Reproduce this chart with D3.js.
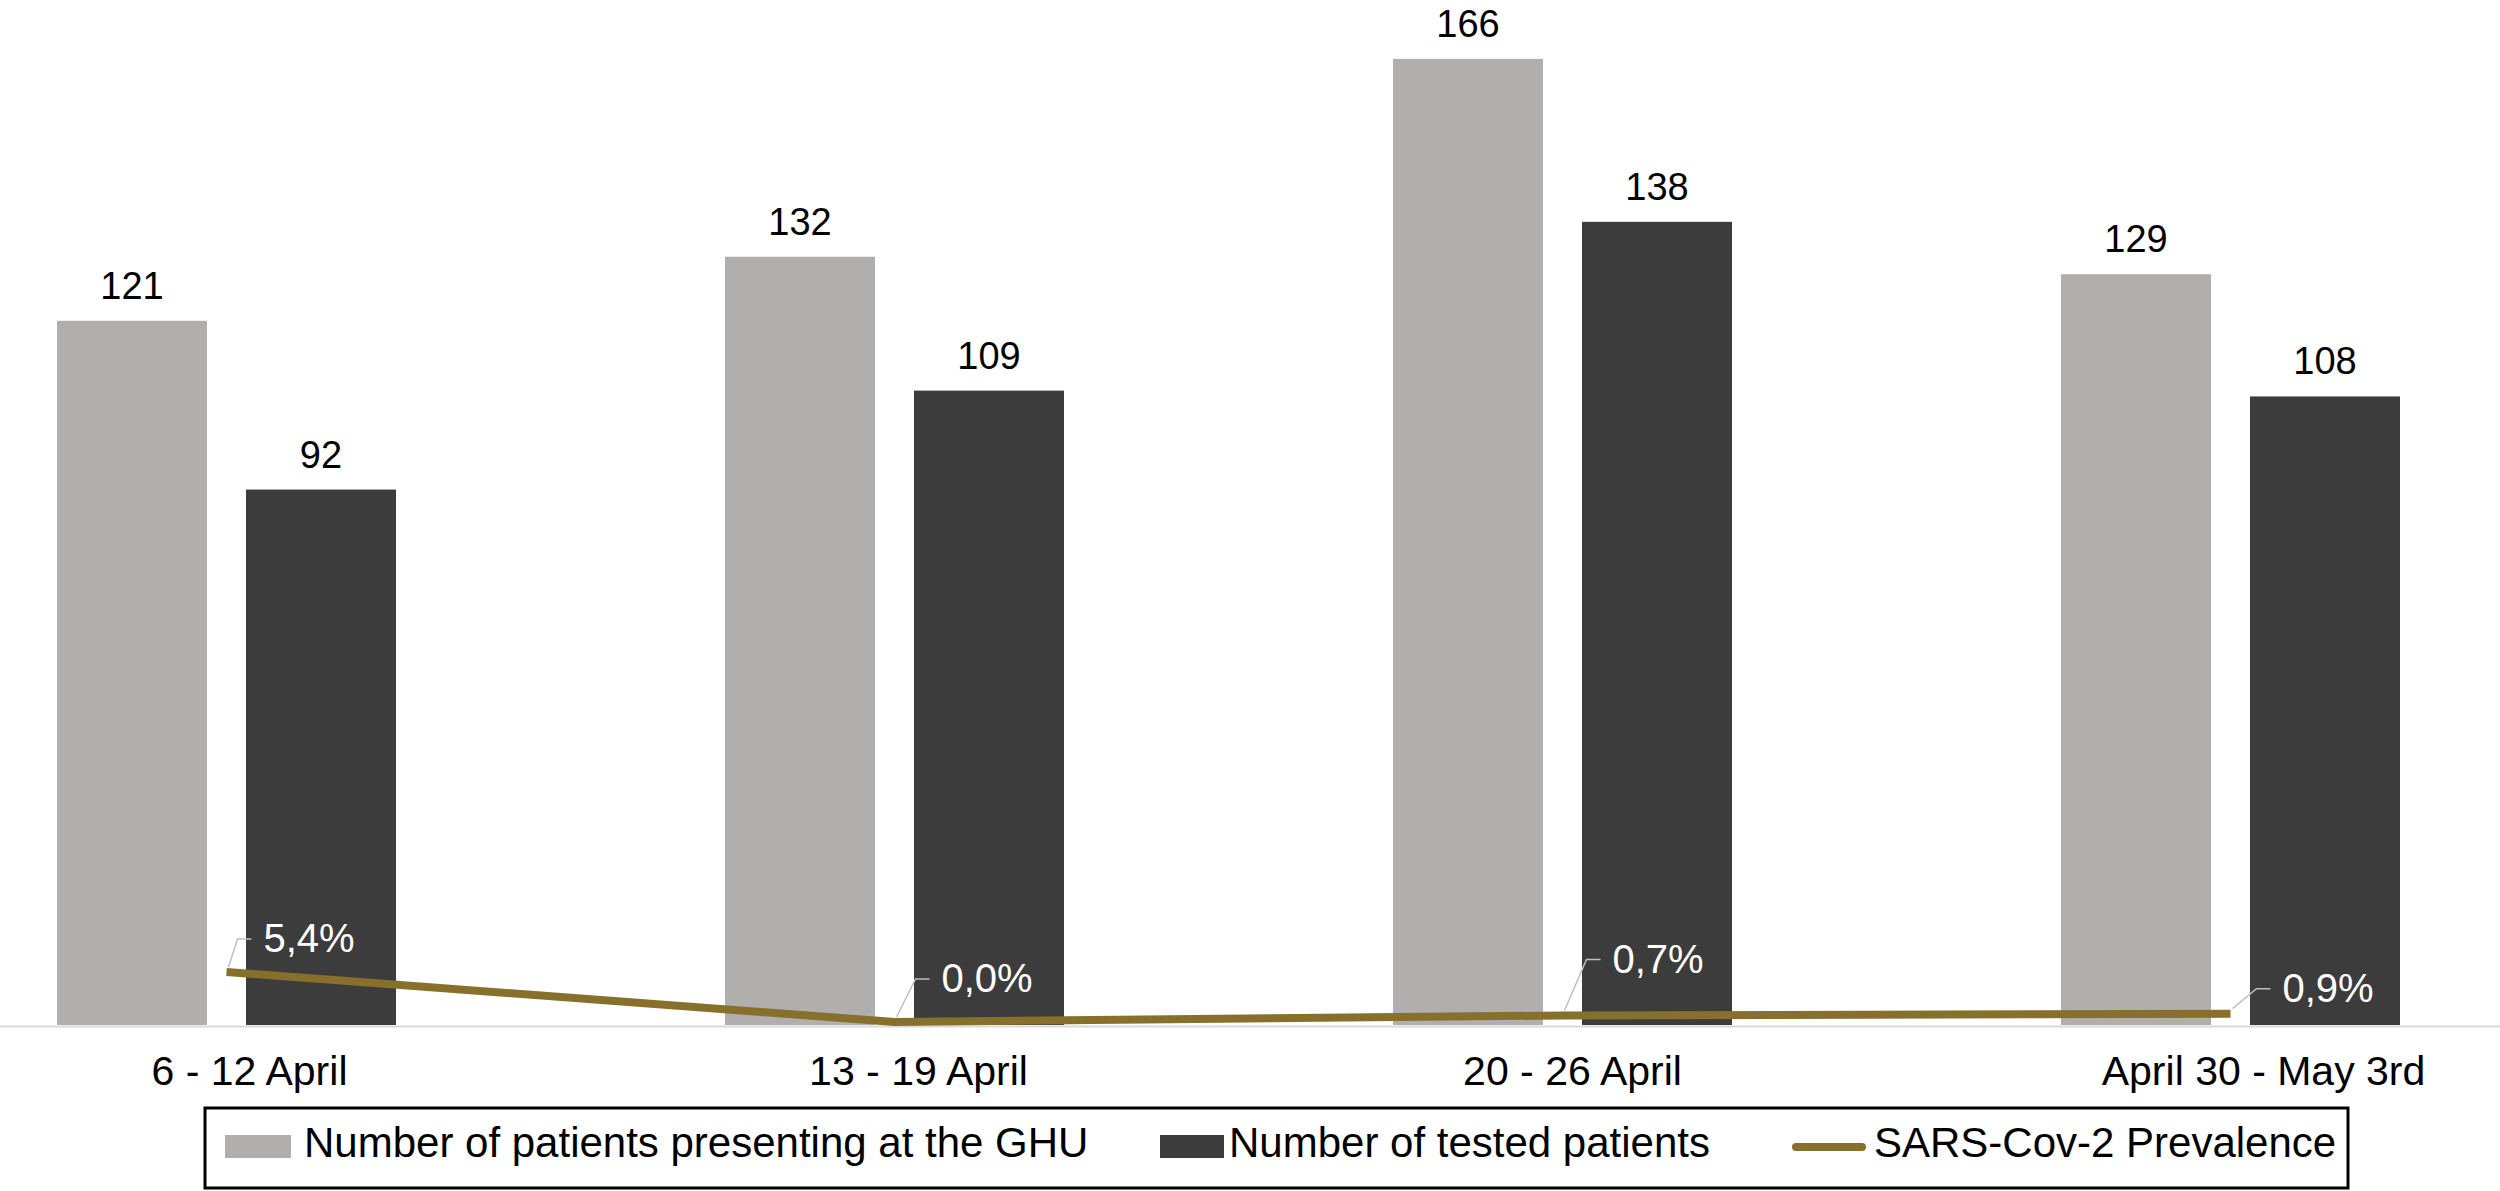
<!DOCTYPE html>
<html>
<head>
<meta charset="utf-8">
<script src="https://cdn.jsdelivr.net/npm/d3@7"></script>
<style>
  body { margin: 0; background: #fff; }
  text { font-family: "Liberation Sans", Arial, Helvetica, sans-serif; }
</style>
</head>
<body>
<div id="chart"></div>
<script>
// data
var weeks = ["6 - 12 April", "13 - 19 April", "20 - 26 April", "April 30 - May 3rd"];
var presenting = [121, 132, 166, 129];
var tested = [92, 109, 138, 108];
var prevalence = [5.4, 0.0, 0.7, 0.9];
var prevalenceLabels = ["5,4%", "0,0%", "0,7%", "0,9%"];

var svgWidth = 2500;
var svgHeight = 1191;
var baseline = 1025;

var svg = d3.select("#chart")
  .append("svg")
  .attr("width", svgWidth)
  .attr("height", svgHeight);

// scales (the original plot area runs past the picture edges)
var x = d3.scaleBand()
  .domain(weeks)
  .range([-107.5, 2564.5]);

var xInner = d3.scaleBand()
  .domain(["presenting", "tested"])
  .range([x.bandwidth() / 2 - 169.5, x.bandwidth() / 2 + 169.5])
  .paddingInner(39 / 189);

var y = d3.scaleLinear()
  .domain([0, 180])
  .range([baseline, baseline - 180 * 5.82]);

// secondary axis for the prevalence (%)
var y2 = d3.scaleLinear()
  .domain([0, 100])
  .range([1022, 1022 - 926]);

// x axis
var xAxis = d3.axisBottom(x).tickSize(0).tickPadding(0);
var axisG = svg.append("g")
  .attr("transform", `translate(0, ${baseline + 1})`)
  .call(xAxis);
axisG.select(".domain").attr("stroke", "#d9d9d9").attr("stroke-width", 2);
var tickShift = [23, 24, 10, 33];
axisG.selectAll(".tick text")
  .attr("y", 59)
  .attr("dy", 0)
  .attr("dx", (d, i) => tickShift[i])
  .attr("font-size", "41px")
  .attr("font-family", "Liberation Sans, Arial, sans-serif")
  .attr("fill", "#000");

// bars
var barData = weeks.map((w, i) => ({ week: w, presenting: presenting[i], tested: tested[i] }));
var colors = { presenting: "#b1afae", tested: "#3c3c3c" };

["presenting", "tested"].forEach(function(key) {
  svg.selectAll("rect." + key)
    .data(barData)
    .enter()
    .append("rect")
    .attr("class", key)
    .attr("x", d => x(d.week) + xInner(key))
    .attr("width", xInner.bandwidth())
    .attr("y", d => y(d[key]))
    .attr("height", d => baseline - y(d[key]))
    .attr("fill", colors[key]);

  svg.selectAll("text.lbl-" + key)
    .data(barData)
    .enter()
    .append("text")
    .attr("class", "lbl-" + key)
    .attr("x", d => x(d.week) + xInner(key) + xInner.bandwidth() / 2)
    .attr("y", d => y(d[key]) - 22)
    .attr("text-anchor", "middle")
    .attr("font-size", "38px")
    .attr("fill", "#000")
    .text(d => d[key]);
});

// prevalence line
var linePts = weeks.map((w, i) => [x(w) + x.bandwidth() / 2, y2(prevalence[i])]);
svg.append("path")
  .datum(linePts)
  .attr("d", d3.line())
  .attr("fill", "none")
  .attr("stroke", "#86702c")
  .attr("stroke-width", 8);

// data labels with leader lines
var labelOffsets = [[37, -20], [47, -30], [50, -43], [52, -12]];
linePts.forEach(function(p, i) {
  var tx = p[0] + labelOffsets[i][0];
  var ty = p[1] + labelOffsets[i][1];
  svg.append("path")
    .attr("d", `M${p[0] + 2},${p[1] - 5} L${tx - 26},${ty - 13} L${tx - 12},${ty - 13}`)
    .attr("fill", "none")
    .attr("stroke", "#bfbfbf")
    .attr("stroke-width", 1.5);
  svg.append("text")
    .attr("x", tx)
    .attr("y", ty)
    .attr("font-size", "40px")
    .attr("fill", "#fff")
    .text(prevalenceLabels[i]);
});

// legend
var legend = svg.append("g");
legend.append("rect")
  .attr("x", 205)
  .attr("y", 1108)
  .attr("width", 2143)
  .attr("height", 80)
  .attr("fill", "none")
  .attr("stroke", "#000")
  .attr("stroke-width", 3);

legend.append("rect").attr("x", 225).attr("y", 1135).attr("width", 66).attr("height", 23).attr("fill", colors.presenting);
legend.append("text").attr("x", 304).attr("y", 1157).attr("font-size", "42px").text("Number of patients presenting at the GHU");

legend.append("rect").attr("x", 1160).attr("y", 1135).attr("width", 64).attr("height", 23).attr("fill", colors.tested);
legend.append("text").attr("x", 1229).attr("y", 1157).attr("font-size", "42px").text("Number of tested patients");

legend.append("line").attr("x1", 1796).attr("x2", 1862).attr("y1", 1147).attr("y2", 1147)
  .attr("stroke", "#86702c").attr("stroke-width", 8).attr("stroke-linecap", "round");
legend.append("text").attr("x", 1874).attr("y", 1157).attr("font-size", "42px").text("SARS-Cov-2 Prevalence");
</script>
</body>
</html>
